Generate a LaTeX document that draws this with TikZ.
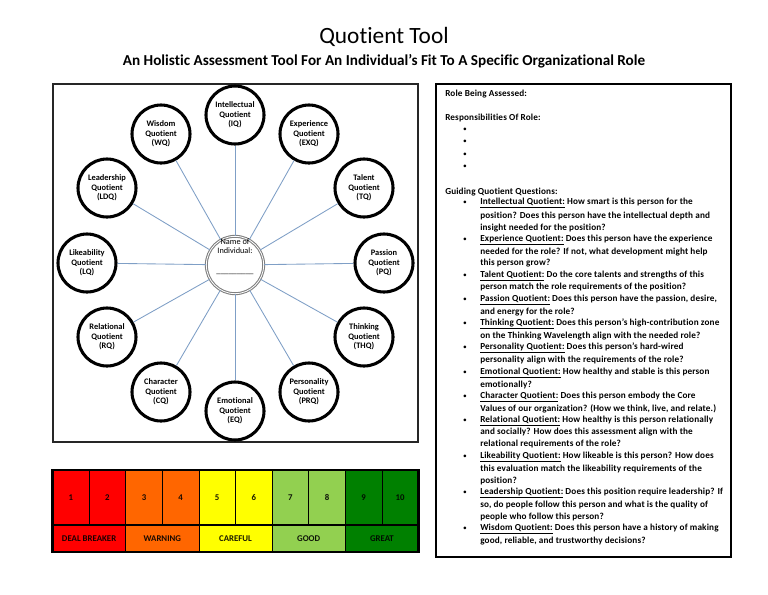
\documentclass[tikz,border=0pt]{standalone}
\usepackage{fontspec}
\setmainfont{Carlito}[Ligatures=NoCommon]
\usepackage{xcolor}
\usetikzlibrary{positioning}
\definecolor{spoke-blau}{HTML}{7F9FC6}
\definecolor{skala-rot}{HTML}{FF0000}
\definecolor{skala-orange}{HTML}{FF6600}
\definecolor{skala-gelb}{HTML}{FFFF00}
\definecolor{skala-hellgruen}{HTML}{92D050}
\definecolor{skala-gruen}{HTML}{008000}
\tikzset{
  quotient/.style={draw=black,line width=2.3pt,circle,fill=white,minimum size=43.5pt,inner sep=0pt,align=center,font=\bfseries\fontsize{6.3}{7.1}\selectfont},
  spoke/.style={draw=spoke-blau,line width=.65pt},
  hub/.style={draw=black!50,double=white,double distance=.6pt,line width=.8pt,circle,fill=white,minimum size=43pt,inner sep=0pt},
  hubtext/.style={align=center,font=\fontsize{6.2}{6.6}\selectfont},
  cell/.style={draw=black,line width=.5pt,minimum width=27.45pt,inner sep=0pt,text opacity=.9,font=\bfseries\fontsize{6.6}{7}\selectfont},
  rowline/.style={anchor=west,inner sep=0pt,font=\bfseries\fontsize{6.9}{8}\selectfont\addfontfeatures{LetterSpace=1.5}},
  listdot/.style={anchor=center,inner sep=0pt,font=\fontsize{5.6}{6}\selectfont},
}
\begin{document}
\begin{tikzpicture}[x=.75pt,y=-.75pt]
    \useasboundingbox (0,0) rectangle (768,594);
    \node[font=\fontsize{17.5}{19}\selectfont] (title) at (384,37) {Quotient Tool};
    \node[font=\bfseries\fontsize{11.4}{13}\selectfont,below=-1pt of title] (subtitle) {An Holistic Assessment Tool For An Individual’s Fit To A Specific Organizational Role};
    \draw[line width=.9pt,draw=black!85] (53,84) rectangle (418,442);
    \node[hub] (hub) at (235,265) {};
    \foreach \n/\x/\y/\txt in {IQ/235/115/{Intellectual\\Quotient\\(IQ)},EXQ/309/134/{Experience\\Quotient\\(EXQ)},
      TQ/364/188/{Talent\\Quotient\\(TQ)},PQ/384/263/{Passion\\Quotient\\(PQ)},THQ/364/337/{Thinking\\Quotient\\(THQ)},
      PRQ/309/392/{Personality\\Quotient\\(PRQ)},EQ/235/411/{Emotional\\Quotient\\(EQ)},CQ/161/392/{Character\\Quotient\\(CQ)},
      RQ/107/337/{Relational\\Quotient\\(RQ)},LQ/87/263/{Likeability\\Quotient\\(LQ)},LDQ/107/188/{Leadership\\Quotient\\(LDQ)},
      WQ/161/134/{Wisdom\\Quotient\\(WQ)}}{
      \node[quotient] (\n) at (\x,\y) {\txt};
      \draw[spoke] (hub) -- (\n);
    }
    \node[hubtext] (nameof) at (235,246) {Name of\\Individual:};
    \node[hubtext] (nameline) at (235,274) {\_\_\_\_\_\_\_\_\_};
    % rating scale
    \foreach \n/\c in {1/skala-rot,2/skala-rot,3/skala-orange,4/skala-orange,5/skala-gelb,6/skala-gelb,7/skala-hellgruen,8/skala-hellgruen,9/skala-gruen,10/skala-gruen}{
      \node[cell,fill=\c,minimum height=41pt] (num\n) at ({52.5+36.6*(\n-.5)},497.5) {\n};
    }
    \foreach \n/\c/\txt in {1/skala-rot/DEAL BREAKER,2/skala-orange/WARNING,3/skala-gelb/CAREFUL,4/skala-hellgruen/GOOD,5/skala-gruen/GREAT}{
      \node[cell,fill=\c,minimum width=54.9pt,minimum height=20.2pt] (band\n) at ({52.5+73.2*(\n-.5)},538.5) {\txt};
    }
    \draw[line width=1.7pt] (52.5,470) rectangle (418.5,552);
    \draw[line width=1.7pt] (52.5,525) -- (418.5,525);
    % right panel
    \draw[line width=1.8pt] (436,84) rectangle (731,557);
    \foreach \y/\txt in {94/{Role Being Assessed:},118/{Responsibilities Of Role:},192/{Guiding Quotient Questions:}}{
      \node[rowline] (head\y) at (445,\y) {\txt};
    }
    \foreach \y in {130,142,155,167,203,240,276,300,324,348,373,397,421,457,493,529}{
      \node[listdot] (dot\y) at (465,\y) {\textbullet};
    }
    \foreach \y/\txt in {203/{\underline{Intellectual Quotient:} How smart is this person for the},
      216/{position? Does this person have the intellectual depth and},
      228/{insight needed for the position?},
      240/{\underline{Experience Quotient:} Does this person have the experience},
      252/{needed for the role? If not, what development might help},
      263/{this person grow?},
      276/{\underline{Talent Quotient:} Do the core talents and strengths of this},
      287/{person match the role requirements of the position?},
      300/{\underline{Passion Quotient:} Does this person have the passion, desire,},
      312/{and energy for the role?},
      324/{\underline{Thinking Quotient:} Does this person’s high-contribution zone},
      336/{on the Thinking Wavelength align with the needed role?},
      348/{\underline{Personality Quotient:} Does this person’s hard-wired},
      360/{personality align with the requirements of the role?},
      373/{\underline{Emotional Quotient:}  How healthy and stable is this person},
      385/{emotionally?},
      397/{\underline{Character Quotient:} Does this person embody the Core},
      409/{Values of our organization? (How we think, live, and relate.)},
      421/{\underline{Relational Quotient:} How healthy is this person relationally},
      432/{and socially? How does this assessment align with the},
      444/{relational requirements of the role?},
      457/{\underline{Likeability Quotient:} How likeable is this person? How does},
      469/{this evaluation match the likeability requirements of the},
      481/{position?},
      493/{\underline{Leadership Quotient:} Does this position require leadership? If},
      505/{so, do people follow this person and what is the quality of},
      517/{people who follow this person?},
      529/{\underline{Wisdom Quotient:} Does this person have a history of making},
      541/{good, reliable, and trustworthy decisions?}}{
      \node[rowline] (line\y) at (480,\y) {\txt};
    }
  \end{tikzpicture}
\end{document}
